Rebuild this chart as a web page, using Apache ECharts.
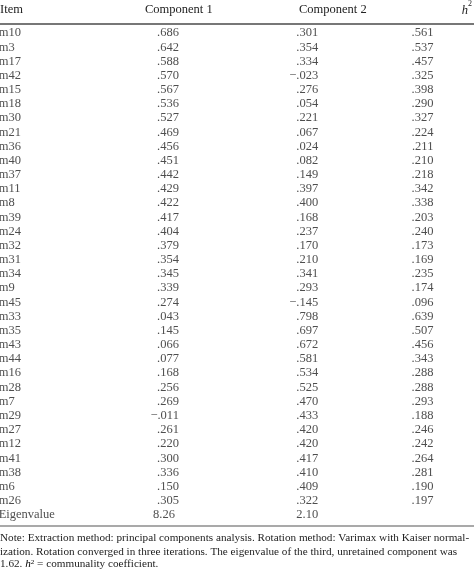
<!DOCTYPE html><html><head><meta charset="utf-8">
<script src="https://cdn.jsdelivr.net/npm/echarts@6/dist/echarts.min.js"></script>
<style>html,body{margin:0;background:#fff}#c{width:474px;height:571px}</style></head><body><div id="c"></div>
<script>
const items=["m10","m3","m17","m42","m15","m18","m30","m21","m36","m40","m37","m11","m8","m39","m24","m32","m31","m34","m9","m45","m33","m35","m43","m44","m16","m28","m7","m29","m27","m12","m41","m38","m6","m26"];
const comp1=[.686,.642,.588,.570,.567,.536,.527,.469,.456,.451,.442,.429,.422,.417,.404,.379,.354,.345,.339,.274,.043,.145,.066,.077,.168,.256,.269,-.011,.261,.220,.300,.336,.150,.305];
const comp2=[.301,.354,.334,-.023,.276,.054,.221,.067,.024,.082,.149,.397,.400,.168,.237,.170,.210,.341,.293,-.145,.798,.697,.672,.581,.534,.525,.470,.433,.420,.420,.417,.410,.409,.322];
const h2=[.561,.537,.457,.325,.398,.290,.327,.224,.211,.210,.218,.342,.338,.203,.240,.173,.169,.235,.174,.096,.639,.507,.456,.343,.288,.288,.293,.188,.246,.242,.264,.281,.190,.197];
const eigen=["8.26","2.10"];
const headers=["Item","Component 1","Component 2","h²"];
const rows=items.concat(["Eigenvalue"]);
const fmt=v=>(v<0?"−":"")+Math.abs(v).toFixed(3).replace(/^0/,"");
const F="Liberation Serif",C="#222";
const data=[];
rows.forEach((r,i)=>{
  data.push({value:[0,r],label:{formatter:r,align:'left',offset:[-41,0]}});
  if(i<items.length){
    data.push({value:[1,r],label:{formatter:fmt(comp1[i])}});
    data.push({value:[2,r],label:{formatter:fmt(comp2[i])}});
    data.push({value:[3,r],label:{formatter:fmt(h2[i]),offset:[-24,0]}});
  }else{
    data.push({value:[1,r],label:{formatter:eigen[0],offset:[-4,0]}});
    data.push({value:[2,r],label:{formatter:eigen[1]}});
  }
});
const chart=echarts.init(document.getElementById('c'),null,{renderer:'canvas'});
chart.setOption({
  animation:false,
  grid:{left:0,right:-40,top:26,bottom:49},
  xAxis:{type:'value',min:-43/151,max:(514-43)/151,show:false},
  yAxis:{type:'category',data:rows,inverse:true,show:false},
  series:[{type:'scatter',symbolSize:0,data:data,clip:false,
    label:{show:true,position:'inside',align:'right',color:C,fontFamily:F,fontSize:12.5}}],
  graphic:[
    {type:'text',left:0,top:3,style:{text:headers[0],font:'12.5px "Liberation Serif"',fill:C}},
    {type:'text',left:145,top:3,style:{text:headers[1],font:'12.5px "Liberation Serif"',fill:C}},
    {type:'text',left:299,top:3,style:{text:headers[2],font:'12.5px "Liberation Serif"',fill:C}},
    {type:'text',right:2,top:0,style:{text:'{i|h}{s|2}',fill:C,rich:{i:{fontFamily:F,fontStyle:'italic',fontSize:12.5,padding:[4,0,0,0]},s:{fontFamily:F,fontSize:8,verticalAlign:'top'}}}},
    {type:'line',shape:{x1:0,y1:24,x2:474,y2:24},style:{stroke:'#777',lineWidth:1.8}},
    {type:'line',shape:{x1:0,y1:526,x2:474,y2:526},style:{stroke:'#555',lineWidth:1.2}},
    {type:'text',left:0,top:533,style:{text:'Note: Extraction method: principal components analysis. Rotation method: Varimax with Kaiser normal-',font:'11.2px "Liberation Serif"',fill:C}},
    {type:'text',left:0,top:547,style:{text:'ization. Rotation converged in three iterations. The eigenvalue of the third, unretained component was',font:'11.2px "Liberation Serif"',fill:C}},
    {type:'text',left:0,top:559,style:{text:'{n|1.62. }{i|h}{s|2}{n| = communality coefficient.}',rich:{n:{fontFamily:F,fontSize:11.2,fill:C},i:{fontFamily:F,fontStyle:'italic',fontSize:11.2},s:{fontFamily:F,fontSize:7,verticalAlign:'top'}}}}
  ]
});
</script></body></html>
